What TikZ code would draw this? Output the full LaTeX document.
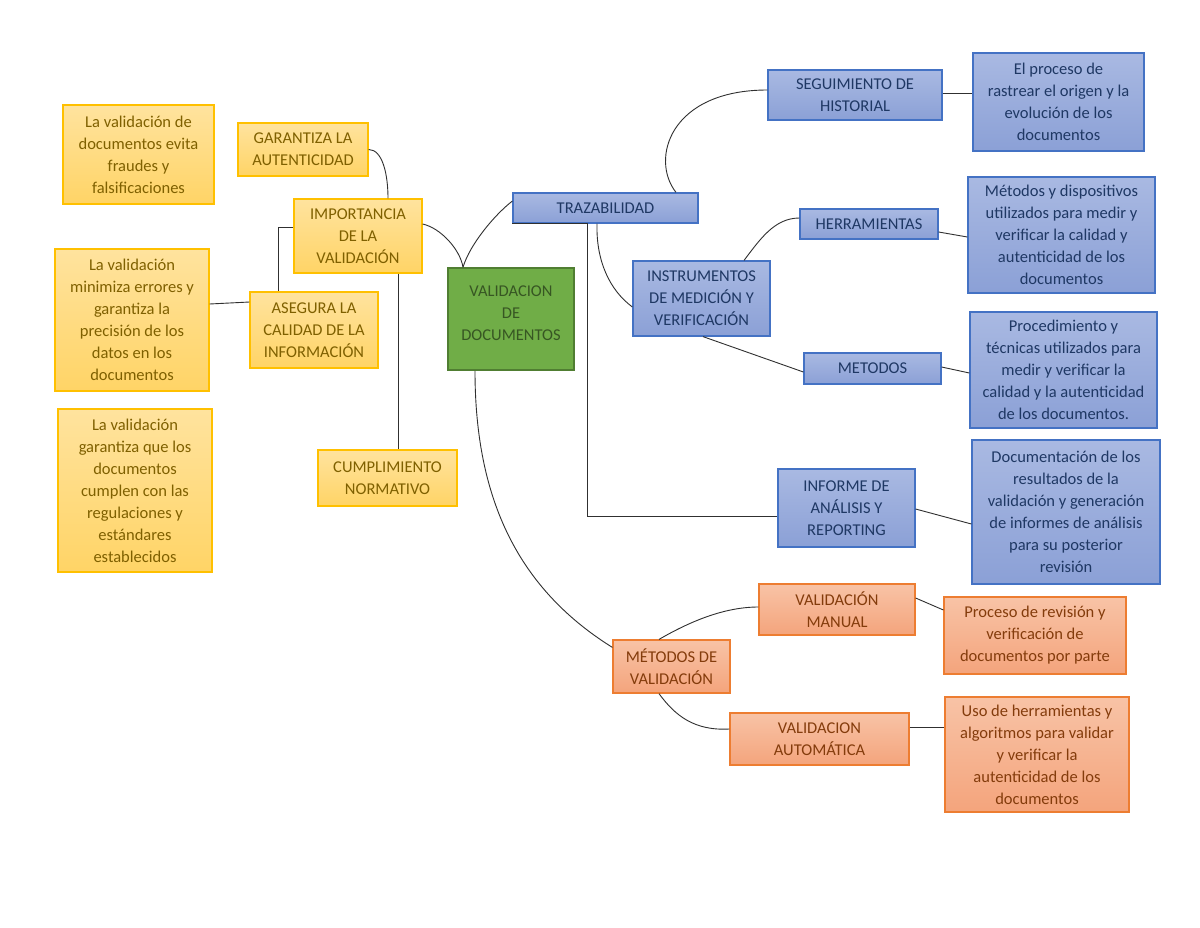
\documentclass[tikz,border=0pt]{standalone}
\usepackage{fontspec}
\setmainfont{Carlito}
\usetikzlibrary{calc}
\definecolor{ybord}{HTML}{FFC000}
\definecolor{ytop}{HTML}{FFE39E}
\definecolor{ybot}{HTML}{FFD466}
\definecolor{ytext}{HTML}{7F6000}
\definecolor{bbord}{HTML}{4472C4}
\definecolor{btop}{HTML}{A9B9E2}
\definecolor{bbot}{HTML}{8BA0D6}
\definecolor{btext}{HTML}{1F3864}
\definecolor{obord}{HTML}{ED7D31}
\definecolor{otop}{HTML}{F8C3A6}
\definecolor{obot}{HTML}{F4A47C}
\definecolor{otext}{HTML}{843C0C}
\definecolor{gfill}{HTML}{70AD47}
\definecolor{gbord}{HTML}{507E32}
\definecolor{gtext}{HTML}{375623}
\definecolor{lineclr}{HTML}{303030}
\begin{document}
\begin{tikzpicture}[x=1pt,y=-1pt,
  box/.style={line width=1.2pt, inner sep=0pt, align=center, font=\fontsize{16.5}{22}\selectfont},
  ybox/.style={box, draw=ybord, top color=ytop, bottom color=ybot, text=ytext},
  bbox/.style={box, draw=bbord, top color=btop, bottom color=bbot, text=btext},
  obox/.style={box, draw=obord, top color=otop, bottom color=obot, text=otext},
  gbox/.style={box, draw=gbord, line width=1.6pt, fill=gfill, text=gtext},
  sz/.style 2 args={minimum width=#1pt, minimum height=#2pt},
  conn/.style={draw=lineclr, line width=0.9pt}]
\fill[white] (0,0) rectangle (1200,927);
\useasboundingbox (0,0) rectangle (1200,927);

% yellow
\node[ybox, sz={151}{99}] (y1) at (138.5,154.5) {La validación de\\documentos evita\\fraudes y\\falsificaciones};
\node[ybox, sz={130}{53}] (gar) at (303,149.5) {GARANTIZA LA\\AUTENTICIDAD};
\node[ybox, sz={128}{74}] (imp) at (358,236) {IMPORTANCIA\\DE LA\\VALIDACIÓN};
\node[ybox, sz={154}{142}] (y2) at (132,320) {La validación\\minimiza errores y\\garantiza la\\precisión de los\\datos en los\\documentos};
\node[ybox, sz={128}{76}] (ase) at (314,330) {ASEGURA LA\\CALIDAD DE LA\\INFORMACIÓN};
\node[ybox, sz={154}{163}] (y3) at (135,490.5) {La validación\\garantiza que los\\documentos\\cumplen con las\\regulaciones y\\estándares\\establecidos};
\node[ybox, sz={139}{56}] (cump) at (387.5,478) {CUMPLIMIENTO\\NORMATIVO};

% green
\node[gbox, sz={126}{102}] (green) at (511,319) {VALIDACION\\DE\\DOCUMENTOS\\[-10pt]\mbox{}};

% blue
\node[bbox, sz={185}{30}] (traz) at (605.5,208) {TRAZABILIDAD};
\node[bbox, sz={174}{50}] (seg) at (855,95) {SEGUIMIENTO DE\\HISTORIAL};
\node[bbox, sz={138}{30}] (herr) at (869,224) {HERRAMIENTAS};
\node[bbox, sz={137}{75}] (inst) at (701.5,298.5) {INSTRUMENTOS\\DE MEDICIÓN Y\\VERIFICACIÓN};
\node[bbox, sz={137}{31}] (met) at (872.5,368.5) {METODOS};
\node[bbox, sz={171}{98}] (b1) at (1058.5,102) {El proceso de\\rastrear el origen y la\\evolución de los\\documentos};
\node[bbox, sz={187}{116}] (b2) at (1061.5,235) {Métodos y dispositivos\\utilizados para medir y\\verificar la calidad y\\autenticidad de los\\documentos};
\node[bbox, sz={187}{116}] (b3) at (1063.5,370) {Procedimiento y\\técnicas utilizados para\\medir y verificar la\\calidad y la autenticidad\\de los documentos.};
\node[bbox, sz={137}{78}] (inf) at (846.5,508) {INFORME DE\\ANÁLISIS Y\\REPORTING};
\node[bbox, sz={188}{144}] (b4) at (1066,512) {Documentación de los\\resultados de la\\validación y generación\\de informes de análisis\\para su posterior\\revisión};

% orange
\node[obox, sz={156}{51}] (vman) at (837,609.5) {VALIDACIÓN\\MANUAL};
\node[obox, sz={117}{53}] (mval) at (671.5,666.5) {MÉTODOS DE\\VALIDACIÓN};
\node[obox, sz={179}{52}] (vaut) at (819.5,739) {VALIDACION\\AUTOMÁTICA};
\node[obox, sz={182}{77}] (o1) at (1035,635.5) {Proceso de revisión y\\verificación de\\documentos por parte};
\node[obox, sz={184}{115}] (o2) at (1037,754.5) {Uso de herramientas y\\algoritmos para validar\\y verificar la\\autenticidad de los\\documentos};

% connectors
\draw[conn] ($(gar.west)+(0,9.5)$) -- ($(gar.west)+(0,9.5)$ -| y1.east);
\draw[conn] (gar.east) .. controls +(14,0) and +(0,-24) .. ($(imp.north)+(30,0)$);
\draw[conn] ($(imp.east)+(0,-12)$) .. controls +(18,4) and +(-3,-18) .. ($(green.north)+(-48,0)$);
\draw[conn] ($(traz.west)+(0,-7)$) .. controls +(-18,14) and +(7,-23) .. ($(green.north)+(-48,0)$);
\draw[conn] ($(imp.west)+(0,-9)$) -| ($(ase.north west)+(29,0)$);
\draw[conn] ($(ase.west)+(0,-28)$) -- ($(y2.east)+(0,-16)$);
\draw[conn] ($(imp.south)+(40,0)$) -- ($(cump.north)+(10.5,0)$);
\draw[conn] ($(green.south)+(-36,0)$) .. controls +(0,130) and +(-93,-58) .. ($(mval.north west)+(0,8)$);
\draw[conn] ($(traz.north)+(70.5,0)$) .. controls +(-26,-33) and +(-98,0) .. ($(seg.west)+(0,-5)$);
\draw[conn] (traz.south west) -- ($(traz.south)+(-18.5,0)$) |- ($(inf.west)+(0,8)$);
\draw[conn] ($(traz.south)+(-8.5,0)$) .. controls +(-1,37) and +(-23,-17) .. ($(inst.west)+(0,8.5)$);
\draw[conn] ($(inst.north)+(42.5,0)$) .. controls +(16,-21) and +(-25,0) .. ($(herr.west)+(0,-6)$);
\draw[conn] ($(inst.south)+(1.5,0)$) -- ($(met.west)+(0,3.5)$);
\draw[conn] ($(seg.east)+(0,-2)$) -- ($(b1.west)+(0,-9)$);
\draw[conn] ($(herr.east)+(0,8)$) -- ($(b2.west)+(0,2)$);
\draw[conn] ($(met.east)+(0,-1.5)$) -- ($(b3.west)+(0,3)$);
\draw[conn] ($(inf.east)+(0,1)$) -- ($(b4.west)+(0,12)$);
\draw[conn] ($(vman.east)+(0,-11.5)$) -- ($(o1.west)+(0,-25.5)$);
\draw[conn] ($(vaut.east)+(0,-12)$) -- ($(o2.west)+(0,-27.5)$);
\draw[conn] ($(mval.north)+(-12.5,0)$) .. controls +(31,-18) and +(-34,0) .. ($(vman.west)+(0,-2.5)$);
\draw[conn] ($(mval.south)+(-12.5,0)$) .. controls +(16,22) and +(-35,2) .. ($(vaut.west)+(0,-10)$);
\end{tikzpicture}
\end{document}
